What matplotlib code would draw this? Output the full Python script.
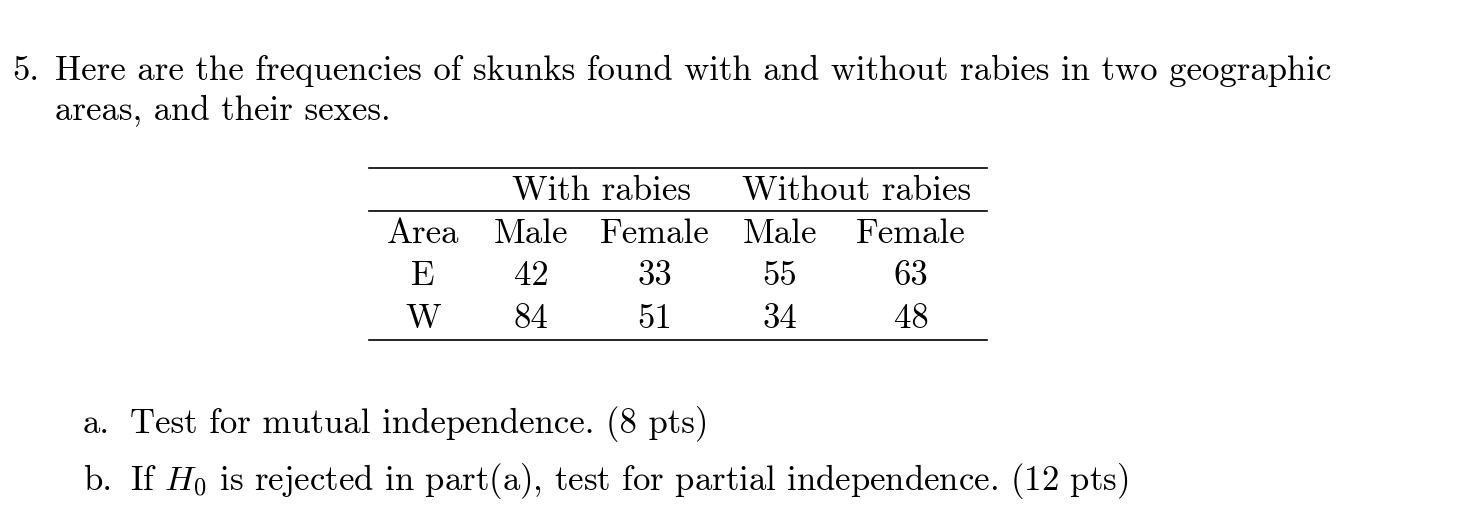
import matplotlib.pyplot as plt
from matplotlib.lines import Line2D

plt.rcParams['font.family'] = ['cmr10']
plt.rcParams['mathtext.fontset'] = 'cm'
plt.rcParams['axes.unicode_minus'] = False

W, H = 1461, 522
FS = 25

areas = ['E', 'W']
groups = ['With rabies', 'Without rabies']
sexes = ['Male', 'Female', 'Male', 'Female']
counts = [[42, 33, 55, 63],
          [84, 51, 34, 48]]

fig = plt.figure(figsize=(W / 100, H / 100), dpi=100)


def put(x, y, s, ha='left', size=FS):
    fig.text(x / W, 1 - y / H, s, ha=ha, va='baseline', fontsize=size)


def rule(y, x0=369, x1=987):
    fig.add_artist(Line2D([x0 / W, x1 / W], [1 - y / H, 1 - y / H],
                          transform=fig.transFigure, color='black', lw=1.2))


put(12, 80, '5.')
put(55, 80, 'Here are the frequencies of skunks found with and without rabies in two geographic')
put(55, 120, 'areas, and their sexes.')

col_x = [531, 655, 780, 911]
group_x = [602, 857]

rule(168)
for gx, g in zip(group_x, groups):
    put(gx, 200, g, ha='center')
rule(211)
put(423, 243, 'Area', ha='center')
for cx, s in zip(col_x, sexes):
    put(cx, 243, s, ha='center')
for i, (a, row) in enumerate(zip(areas, counts)):
    y = 285 + i * 43
    put(423, y, a, ha='center')
    for cx, v in zip(col_x, row):
        put(cx, y, str(v), ha='center')
rule(340)

put(83, 433, 'a.')
put(130, 433, 'Test for mutual independence. (8 pts)')
put(83, 490, 'b.')
put(130, 490, r'If $H_0$ is rejected in part(a), test for partial independence. (12 pts)')

fig.savefig('out.png', dpi=100)
